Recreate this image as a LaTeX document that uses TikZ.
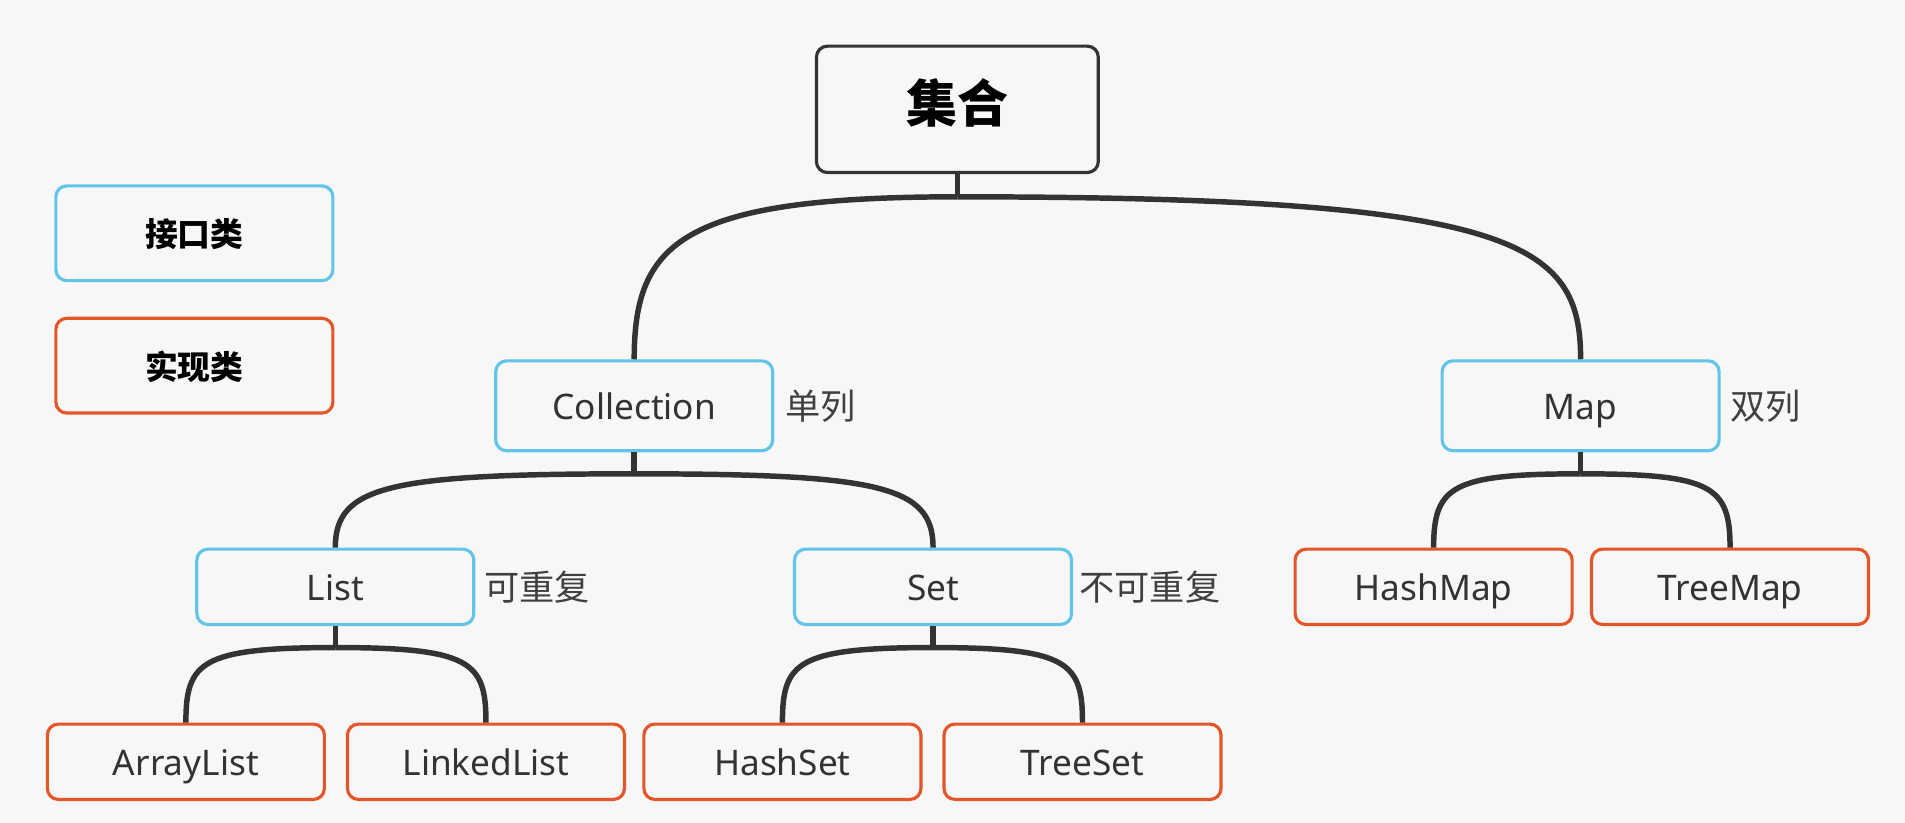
\documentclass[tikz,border=0pt]{standalone}
\usepackage{fontspec}
\setmainfont{Noto Sans}
\newfontfamily\cjk{Noto Sans CJK SC}
\begin{document}
\begin{tikzpicture}[x=1pt,y=-1pt,
  box/.style={draw=#1,line width=2.6pt,rounded corners=9pt,minimum width=228pt,minimum height=62pt,inner sep=0pt,font=\fontsize{29}{32}\selectfont,text=black!80,text height=25pt,text depth=3pt},
  ifc/.style={box=cblue},
  impl/.style={box=corange},
  lab/.style={font=\cjk\fontsize{29}{32}\selectfont,text=black!75,anchor=west},
  con/.style={draw=black!80,line width=4.5pt}]
\definecolor{cblue}{HTML}{62C4E8}
\definecolor{corange}{HTML}{E4562A}
\useasboundingbox (0,0) rectangle (1568,677);
\fill[white!97!black] (0,0) rectangle (1568,677);
\node[box=black!80,minimum width=232pt,minimum height=104pt,font=\cjk\bfseries\fontsize{42}{46}\selectfont,text=black] (root) at (788,90) {集合};
\node[ifc,font=\cjk\bfseries\fontsize{27}{30}\selectfont,text=black,minimum height=78pt] (leg1) at (160,192) {接口类};
\node[impl,font=\cjk\bfseries\fontsize{27}{30}\selectfont,text=black,minimum height=78pt] (leg2) at (160,301) {实现类};
\node[ifc,minimum height=74pt] (coll) at (522,334) {Collection};
\node[ifc,minimum height=74pt] (map) at (1301,334) {Map};
\node[ifc] (list) at (276,483) {List};
\node[ifc] (set) at (768,483) {Set};
\node[impl] (hm) at (1180,483) {HashMap};
\node[impl] (tm) at (1424,483) {TreeMap};
\node[impl] (al) at (153,627) {ArrayList};
\node[impl] (ll) at (400,627) {LinkedList};
\node[impl] (hs) at (644,627) {HashSet};
\node[impl] (ts) at (891,627) {TreeSet};
\node[lab] (l1) at (643,334) {单列};
\node[lab] (l2) at (1421,334) {双列};
\node[lab] (l3) at (395,483) {可重复};
\node[lab] (l4) at (885,483) {不可重复};
\coordinate (j0) at (788,162);
\coordinate (j1) at (522,390);
\coordinate (j2) at (1301,390);
\coordinate (j3) at (276,533);
\coordinate (j4) at (768,533);
\draw[con] (root.south) -- (j0);
\draw[con] (j0) .. controls (560,162) and (522,200) .. (coll.north);
\draw[con] (j0) .. controls (1250,162) and (1301,200) .. (map.north);
\draw[con] (coll.south) -- (j1);
\draw[con] (j1) .. controls (320,390) and (276,400) .. (list.north);
\draw[con] (j1) .. controls (724,390) and (768,400) .. (set.north);
\draw[con] (map.south) -- (j2);
\draw[con] (j2) .. controls (1195,390) and (1180,400) .. (hm.north);
\draw[con] (j2) .. controls (1409,390) and (1424,400) .. (tm.north);
\draw[con] (list.south) -- (j3);
\draw[con] (j3) .. controls (165,533) and (153,545) .. (al.north);
\draw[con] (j3) .. controls (388,533) and (400,545) .. (ll.north);
\draw[con] (set.south) -- (j4);
\draw[con] (j4) .. controls (656,533) and (644,545) .. (hs.north);
\draw[con] (j4) .. controls (879,533) and (891,545) .. (ts.north);
\end{tikzpicture}
\end{document}
